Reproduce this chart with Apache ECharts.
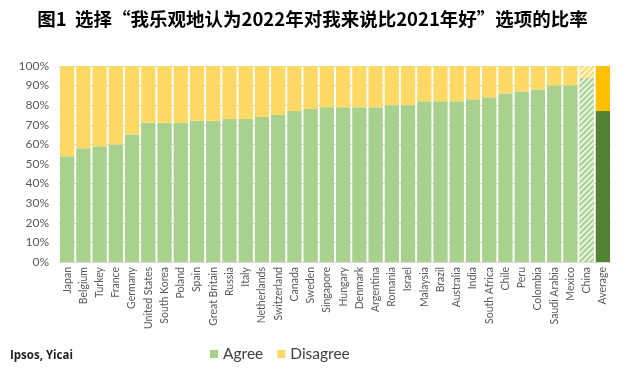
<!DOCTYPE html>
<html><head><meta charset="utf-8">
<script src="https://cdn.jsdelivr.net/npm/echarts@6/dist/echarts.min.js"></script>
<style>html,body{margin:0;padding:0;background:#fff}#c{width:625px;height:372px}</style>
</head><body><div id="c"></div>
<script>
const titleText = '图1  选择“我乐观地认为2022年对我来说比2021年好”选项的比率';
const categories = ['Japan','Belgium','Turkey','France','Germany','United States','South Korea','Poland','Spain','Great Britain','Russia','Italy','Netherlands','Switzerland','Canada','Sweden','Singapore','Hungary','Denmark','Argentina','Romania','Israel','Malaysia','Brazil','Australia','India','South Africa','Chile','Peru','Colombia','Saudi Arabia','Mexico','China','Average'];
const agree =    [54,58,59,60,65,71,71,71,72,72,73,73,74,75,77,78,79,79,79,79,80,80,82,82,82,83,84,86,87,88,90,90,94,77];
const disagree = [46,42,41,40,35,29,29,29,28,28,27,27,26,25,23,22,21,21,21,21,20,20,18,18,18,17,16,14,13,12,10,10,6,23];
const yTicks = [0,10,20,30,40,50,60,70,80,90,100];

const GREEN='#A9D18E', YELLOW='#FFD966', DGREEN='#548235', ORANGE='#FFC000';
const hatch = {symbol:'rect', dashArrayX:[1,0], dashArrayY:[2,2], rotation:-Math.PI/4, color:'rgba(255,255,255,0.75)'};
function styled(vals, base, avgColor){
  return vals.map((v,i)=>{
    const c = categories[i];
    if(c==='Average') return {value:v, itemStyle:{color:avgColor}};
    if(c==='China') return {value:v, itemStyle:{color:base, decal:hatch}};
    return v;
  });
}
const chart = echarts.init(document.getElementById('c'), null, {renderer:'canvas'});
chart.setOption({
  animation:false,
  aria:{enabled:false},
  title:{text:titleText, left:'center', top:5, textStyle:{fontFamily:'Noto Sans CJK SC', fontSize:18.5, fontWeight:'bold', color:'#000'}},
  graphic:[{type:'text', left:10, top:350, style:{text:'Ipsos, Yicai', font:'bold 11.5px "Open Sans"', fill:'#222'}}],
  legend:{left:205, top:341, icon:'rect', itemWidth:8, itemHeight:8, itemGap:14,
    textStyle:{fontFamily:'Lato', fontSize:15.5, color:'#404040'},
    data:[{name:'Agree', itemStyle:{color:GREEN}},{name:'Disagree', itemStyle:{color:YELLOW}}]},
  grid:{left:59, right:14, top:66, bottom:110, containLabel:false, show:false},
  xAxis:{type:'category', data:categories,
    axisLine:{lineStyle:{color:'#D9D9D9'}}, axisTick:{show:false},
    axisLabel:{rotate:90, interval:0, fontFamily:'Lato', fontSize:10.5, color:'#595959', margin:5}},
  yAxis:{type:'value', min:0, max:100, interval:10,
    axisLabel:{formatter:'{value}%', fontFamily:'Lato', fontSize:12, color:'#595959', margin:10},
    splitLine:{lineStyle:{color:'#D9D9D9'}}, axisLine:{show:false}, axisTick:{show:false}},
  series:[
    {name:'Agree', type:'bar', stack:'s', barCategoryGap:'12%', itemStyle:{color:GREEN}, data:styled(agree, GREEN, DGREEN)},
    {name:'Disagree', type:'bar', stack:'s', barCategoryGap:'12%', itemStyle:{color:YELLOW}, data:styled(disagree, YELLOW, ORANGE)}
  ]
});
</script></body></html>
